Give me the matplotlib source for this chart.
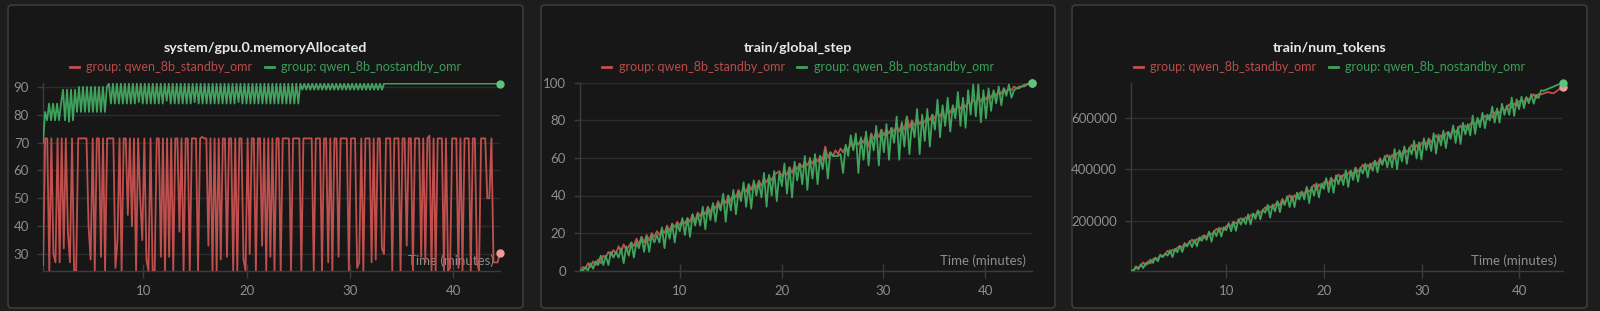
import numpy as np
import matplotlib.pyplot as plt
from matplotlib.patches import FancyBboxPatch
from matplotlib.lines import Line2D
from matplotlib.transforms import IdentityTransform

plt.rcParams['font.family'] = ['Lato', 'DejaVu Sans']

groups = ['group: qwen_8b_standby_omr', 'group: qwen_8b_nostandby_omr']
titles = ['system/gpu.0.memoryAllocated', 'train/global_step', 'train/num_tokens']

mem_span = (0.3, 44.5)
mem_standby = [
    26, 71.5, 71.5, 24, 71.5, 30, 27, 71.5, 27, 71.5,
    32, 71.5, 38, 27, 71.5, 24, 24, 71.5, 71.5, 71.5,
    71.5, 71.5, 40, 28, 71.5, 24, 71.5, 71.5, 29, 71.5,
    24, 71.5, 71.5, 71.5, 71.5, 25, 35, 71.5, 24, 71.5,
    71.5, 44, 71.5, 40, 71.5, 24, 71.5, 50, 35, 71.5,
    28, 24, 71.5, 24, 24, 71.5, 71.5, 29, 71.5, 24,
    71.5, 29, 71.5, 24, 71.5, 71.5, 38, 71.5, 24, 71.5,
    71.5, 24, 71.5, 71.5, 71.5, 24, 71.5, 72, 71.5, 71.5,
    33, 71.5, 24, 71.5, 24, 71.5, 28, 71.5, 71.5, 29,
    71.5, 71.5, 24, 71.5, 24, 71.5, 71.5, 28, 24, 71.5,
    30, 71.5, 71.5, 24, 71.5, 71.5, 33, 71.5, 24, 71.5,
    29, 71.5, 24, 71.5, 71.5, 24, 71.5, 71.5, 71.5, 71.5,
    24, 71.5, 71.5, 71.5, 71.5, 24, 71.5, 71.5, 71.5, 71.5,
    71.5, 24, 71.5, 71.5, 71.5, 24, 71.5, 71.5, 27, 71.5,
    24, 71.5, 71.5, 29, 71.5, 71.5, 71.5, 71.5, 24, 71.5,
    71.5, 71.5, 25, 27, 71.5, 24, 71.5, 71.5, 71.5, 27,
    71.5, 28, 71.5, 71.5, 32, 30, 71.5, 71.5, 71.5, 24,
    71.5, 71.5, 71.5, 24, 71.5, 71.5, 33, 71.5, 71.5, 24,
    71.5, 71.5, 71.5, 29, 71.5, 27, 71.5, 72.5, 24, 71.5,
    24, 71.5, 71.5, 71.5, 24, 71.5, 24, 25, 71.5, 71.5,
    71.5, 25, 71.5, 24, 71.5, 71.5, 71.5, 24, 71.5, 71.5,
    27, 24, 71.5, 71.5, 71.5, 50, 50, 71.5, 27, 27,
    27, 30.3,
]
mem_nostandby = [
    70, 81, 78, 84, 78, 84, 78, 84, 78, 84,
    89, 78, 89, 77.5, 89, 78, 89,
    81, 90, 81, 90, 81, 90, 81, 90, 81, 90, 81, 90, 81, 90, 81, 90,
    91.2, 84, 91.2, 84, 91.2, 84, 91.2, 84, 91.2, 84, 91.2, 84,
    91.2, 84, 91.2, 84.5, 91.2, 84, 91.2, 84, 91.2, 84, 91.2, 84,
    91.2, 84, 91.2, 84, 91.2, 85, 91.2, 84, 91.2, 84, 91.2, 84,
    91.2, 84, 91.2, 84, 91.2, 84, 91.2, 84.5, 91.2, 84, 91.2, 84,
    91.2, 84, 91.2, 84, 91.2, 84, 91.2, 84, 91.2, 84, 91.2, 84,
    91.2, 84, 91.2, 84, 91.2, 84.5, 91.2, 84, 91.2, 84, 91.2, 84,
    91.2, 84, 91.2, 84, 91.2, 84, 91.2, 84, 91.2, 84, 91.2, 84,
    91.2, 84, 91.2, 84, 91.2, 84, 91.2, 84, 91.2, 84, 91.2, 84,
    91.2, 89, 91.2, 89, 91.2, 89, 91.2, 89, 91.2, 89, 91.2, 89, 91.2, 89,
    91.2, 89, 91.2, 89, 91.2, 89, 91.2, 89, 91.2, 89, 91.2, 89, 91.2, 89,
    91.2, 89, 91.2, 89, 91.2, 89, 91.2, 89, 91.2, 89, 91.2, 89, 91.2, 89,
    91.2, 91.2, 91.2, 91.2, 91.2, 91.2, 91.2, 91.2, 91.2, 91.2,
    91.2, 91.2, 91.2, 91.2, 91.2, 91.2, 91.2, 91.2, 91.2, 91.2,
    91.2, 91.2, 91.2, 91.2, 91.2, 91.2, 91.2, 91.2, 91.2, 91.2,
    91.2, 91.2, 91.2, 91.2, 91.2, 91.2, 91.2, 91.2, 91.2, 91.2,
    91.2, 91.2, 91.2, 91.2, 91.2, 91.2, 91.2, 91.2, 91.2, 91.2,
    91.2, 91.2, 91.2, 91.2, 91.2, 91.2, 91.2, 91.2, 91.2,
]

step_span = (0.2, 44.6)
step_standby = [
    0, 2, 1, 4, 2, 5, 3, 6, 4, 8,
    7, 10, 8, 11, 9, 13, 10, 14, 11, 13,
    15, 13, 17, 14, 18, 15, 19, 16, 20, 18,
    21, 19, 22, 20, 24, 21, 25, 23, 26, 24,
    27, 25, 28, 26, 30, 26, 31, 29, 32, 30,
    34, 31, 35, 33, 37, 34, 38, 36, 40, 37,
    41, 39, 43, 40, 44, 42, 46, 43, 47, 44,
    48, 45, 49, 47, 50, 48, 51, 52, 53, 50,
    53, 51, 55, 52, 56, 54, 57, 55, 58, 56,
    59, 57, 60, 58, 61, 59, 66, 60, 63, 61,
    64, 62, 65, 63, 66, 64, 68, 65, 69, 67,
    70, 68, 72, 66, 73, 70, 74, 71, 75, 72,
    75, 73, 76, 74, 77, 74, 78, 75, 82, 76,
    80, 77, 81, 78, 80, 79, 82, 80, 83, 81,
    84, 82, 85, 80, 86, 84, 87, 85, 88, 86,
    89, 87, 90, 88, 91, 89, 92, 90, 93, 91,
    94, 92, 95, 93, 96, 94, 97, 95, 97, 96,
    98, 97, 98, 98, 99, 99, 100, 100,
]
step_nostandby = [
    0, 0, 2, 0, 4, 1, 5, 3, 8, 3,
    8, 3, 10, 7, 10, 7, 12, 4, 13, 8,
    15, 7, 15, 12, 18, 10, 18, 10, 19, 15,
    19, 15, 23, 12, 23, 17, 25, 15, 25, 21,
    28, 19, 28, 18, 30, 24, 30, 24, 34, 22,
    34, 27, 36, 26, 36, 32, 41, 26, 40, 32,
    43, 30, 42, 37, 47, 34, 46, 33, 48, 40,
    47, 39, 52, 34, 51, 40, 53, 37, 52, 45,
    57, 41, 55, 39, 58, 48, 57, 46, 61, 43,
    60, 49, 62, 46, 61, 54, 64, 49, 63, 61,
    61, 61, 62, 52, 67, 61, 72, 64, 73, 52,
    71, 59, 74, 56, 72, 64, 77, 56, 75, 63,
    78, 59, 76, 68, 82, 59, 79, 66, 82, 62,
    79, 71, 86, 62, 83, 69, 86, 66, 83, 75,
    91, 71, 88, 77, 92, 74, 88, 81, 95, 77,
    92, 76, 96, 83, 99, 82, 99, 79, 96, 81,
    97, 85, 96, 89, 98, 88, 97, 93, 99, 92,
    96, 97, 97, 98, 98, 99, 100, 100,
]

tok_span = (0.23, 44.49)
tokens_standby_k = [
    8, 10, 25, 18, 28, 40, 28, 44, 36, 52,
    58, 52, 70, 63, 73, 85, 74, 89, 82, 97,
    103, 97, 115, 107, 117, 128, 116, 131, 124, 139,
    145, 138, 156, 148, 158, 170, 158, 173, 165, 180,
    186, 180, 198, 190, 200, 211, 200, 215, 207, 222,
    228, 222, 240, 232, 242, 253, 242, 257, 249, 264,
    273, 260, 286, 272, 285, 300, 280, 300, 286, 307,
    314, 302, 327, 313, 326, 341, 321, 342, 328, 349,
    356, 343, 368, 353, 366, 380, 360, 380, 366, 386,
    393, 380, 405, 391, 404, 418, 398, 418, 404, 424,
    431, 418, 443, 429, 442, 456, 436, 456, 442, 462,
    469, 456, 481, 467, 480, 494, 474, 495, 480, 501,
    508, 495, 520, 505, 518, 532, 512, 532, 518, 538,
    545, 532, 557, 543, 556, 570, 550, 570, 556, 576,
    582, 573, 594, 584, 596, 608, 594, 611, 601, 619,
    626, 617, 638, 628, 640, 652, 638, 655, 645, 663,
    669, 659, 679, 669, 679, 691, 675, 692, 690, 693,
    697, 699, 696, 694, 700, 707, 714, 720,
]
tokens_nostandby_k = [
    8, 5, 21, 13, 32, 18, 37, 34, 51, 38,
    57, 44, 68, 60, 73, 66, 87, 60, 93, 79,
    104, 80, 109, 101, 122, 99, 127, 102, 137, 123,
    142, 127, 159, 120, 162, 141, 174, 140, 176, 164,
    192, 160, 195, 162, 207, 186, 210, 188, 226, 187,
    229, 208, 241, 207, 244, 232, 263, 213, 264, 237,
    277, 234, 278, 262, 296, 254, 297, 254, 310, 283,
    311, 283, 333, 269, 332, 298, 346, 291, 345, 324,
    366, 312, 365, 309, 377, 342, 376, 339, 396, 332,
    395, 359, 407, 352, 406, 384, 422, 369, 423, 394,
    434, 388, 435, 417, 452, 408, 453, 407, 479, 400,
    474, 431, 489, 421, 484, 458, 510, 442, 505, 438,
    520, 475, 515, 471, 540, 461, 535, 492, 550, 482,
    545, 518, 570, 502, 565, 498, 580, 535, 575, 531,
    608, 537, 600, 563, 619, 559, 612, 589, 643, 581,
    636, 581, 654, 611, 647, 611, 678, 607, 671, 633,
    681, 637, 679, 656, 691, 654, 689, 676, 706, 704,
    708, 712, 716, 720, 724, 728, 731, 735,
]

# ---- styling ----
RED = '#c0504e'
GREEN = '#3fa35c'
RED_TXT = '#b84c4a'
GREEN_TXT = '#3c9e58'
RED_DOT = '#f29a9a'
GREEN_DOT = '#5cc47c'
PAGE = '#1d1d1d'
PANEL = '#171717'
EDGE = '#3b3b3b'
GRID = '#2c2c2c'
AXIS = '#3c3c3c'
LABEL = '#8e8e8e'

W, H = 1600, 311
fig = plt.figure(figsize=(W / 100, H / 100), dpi=100, facecolor=PAGE)


def px_rect(x0, y0, x1, y1):
    return [x0 / W, 1 - y1 / H, (x1 - x0) / W, (y1 - y0) / H]


panels = [(8, 5, 523, 308), (541, 5, 1055, 308), (1072, 5, 1587, 308)]
axes_px = [(43, 82.7, 500, 270.7), (580, 82.7, 1032, 270.7), (1131, 82.7, 1563, 270.7)]
xlims = [(0.29, 44.53), (0.17, 44.61), (0.23, 44.49)]
ylims = [(24.0, 91.5), (0, 100), (7700, 735400)]
yticks = [[30, 40, 50, 60, 70, 80, 90], [0, 20, 40, 60, 80, 100], [200000, 400000, 600000]]

series = [
    (mem_span, mem_standby, mem_nostandby),
    (step_span, step_standby, step_nostandby),
    (tok_span, np.array(tokens_standby_k) * 1000, np.array(tokens_nostandby_k) * 1000),
]

for k in range(3):
    x0, y0, x1, y1 = panels[k]
    fig.add_artist(FancyBboxPatch((x0, H - y1), x1 - x0, y1 - y0,
                                  boxstyle='round,pad=0,rounding_size=4',
                                  transform=IdentityTransform(),
                                  facecolor=PANEL, edgecolor=EDGE, lw=1.2, zorder=0))
    cx = (x0 + x1) / 2
    fig.text(cx / W, 1 - 48 / H, titles[k], ha='center', va='center',
             fontsize=10.3, fontweight='bold', color='#e8e8e8')
    handles = [Line2D([], [], color=RED, lw=2), Line2D([], [], color=GREEN, lw=2)]
    leg = fig.legend(handles, groups, loc='center', bbox_to_anchor=(cx / W, 1 - 67 / H),
                     ncol=2, frameon=False, fontsize=9, handlelength=0.7,
                     handletextpad=0.6, columnspacing=1.0, borderpad=0)
    for txt, c in zip(leg.get_texts(), [RED_TXT, GREEN_TXT]):
        txt.set_color(c)

    ax = fig.add_axes(px_rect(*axes_px[k]))
    ax.set_facecolor('none')
    span, red_vals, green_vals = series[k]
    t_red = np.linspace(span[0], span[1], len(red_vals))
    t_green = np.linspace(span[0], span[1], len(green_vals))
    ax.plot(t_red, red_vals, color=RED, lw=1.3, zorder=3)
    ax.plot(t_green, green_vals, color=GREEN, lw=1.3, zorder=3)
    ax.plot(t_red[-1], red_vals[-1], 'o', ms=5, color=RED_DOT, clip_on=False, zorder=5)
    ax.plot(t_green[-1], green_vals[-1], 'o', ms=5, color=GREEN_DOT, clip_on=False, zorder=5)

    ax.set_xlim(*xlims[k])
    ax.set_ylim(*ylims[k])
    ax.set_xticks([10, 20, 30, 40])
    ax.set_yticks(yticks[k])
    ax.yaxis.grid(True, color=GRID, lw=1)
    ax.set_axisbelow(True)
    for side in ['top', 'right']:
        ax.spines[side].set_visible(False)
    for side in ['left', 'bottom']:
        ax.spines[side].set_color(AXIS)
        ax.spines[side].set_linewidth(1)
    ax.tick_params(axis='x', direction='inout', length=10, width=1, color=AXIS,
                   labelcolor=LABEL, labelsize=9.5, pad=5)
    ax.tick_params(axis='y', direction='out', length=4, width=1, color=AXIS,
                   labelcolor=LABEL, labelsize=9.5, pad=6)
    ax.text(0.986, 0.052, 'Time (minutes)', transform=ax.transAxes, ha='right',
            va='center', fontsize=9.5, color=LABEL, zorder=2)

fig.savefig('out.png', dpi=100, facecolor=PAGE)
